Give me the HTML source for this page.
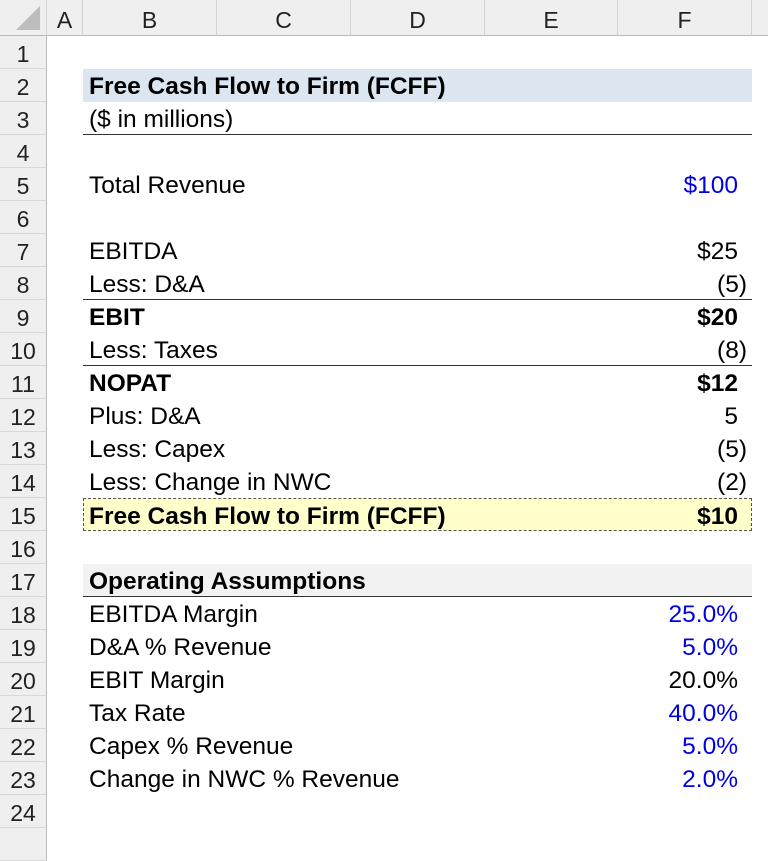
<!DOCTYPE html>
<html><head><meta charset="utf-8"><style>
body{margin:0;width:768px;height:834px;overflow:hidden;background:#fff;font-family:"Liberation Sans",Arial,sans-serif;position:relative}
.ch{position:absolute;top:0;height:36px;background:#efefef;border-bottom:1px solid #bbb;font-size:23px;line-height:40px;text-align:center;color:#222;border-right:1px solid #d4d4d4;box-sizing:border-box}
.rh{position:absolute;left:0;width:47px;height:33px;background:#efefef;border-right:1px solid #bbb;border-bottom:1px solid #d8d8d8;box-sizing:border-box;font-size:23px;line-height:36px;text-align:center;color:#222}
.row{position:absolute;left:83px;width:669px;height:33px;box-sizing:border-box;font-size:24.5px;line-height:36px;color:#000}
.l{position:absolute;left:6px}
.r{position:absolute;right:14px}
.rp{position:absolute;right:5px}
.b{font-weight:bold}.blue{color:#0000e6}
</style></head><body>
<div class="ch" style="left:0;width:47px"><svg width="47" height="36"><polygon points="40,6 40,30 16,30" fill="#bdbdbd"/></svg></div>
<div class="ch" style="left:47px;width:36px">A</div>
<div class="ch" style="left:83px;width:134px">B</div>
<div class="ch" style="left:217px;width:134px">C</div>
<div class="ch" style="left:351px;width:134px">D</div>
<div class="ch" style="left:485px;width:133px">E</div>
<div class="ch" style="left:618px;width:134px">F</div>
<div class="ch" style="left:752px;width:16px;border-right:none"></div>
<div id="rows"></div>

<div class="row" style="top:69px;background:#dce6f1"><span class="l b">Free Cash Flow to Firm (FCFF)</span></div>
<div class="row" style="top:102px;border-bottom:1px solid #333"><span class="l">($ in millions)</span></div>
<div class="row" style="top:168px"><span class="l">Total Revenue</span><span class="r blue">$100</span></div>
<div class="row" style="top:234px"><span class="l">EBITDA</span><span class="r">$25</span></div>
<div class="row" style="top:267px;border-bottom:1px solid #333"><span class="l">Less: D&amp;A</span><span class="rp">(5)</span></div>
<div class="row" style="top:300px"><span class="l b">EBIT</span><span class="r b">$20</span></div>
<div class="row" style="top:333px;border-bottom:1px solid #333"><span class="l">Less: Taxes</span><span class="rp">(8)</span></div>
<div class="row" style="top:366px"><span class="l b">NOPAT</span><span class="r b">$12</span></div>
<div class="row" style="top:399px"><span class="l">Plus: D&amp;A</span><span class="r">5</span></div>
<div class="row" style="top:432px"><span class="l">Less: Capex</span><span class="rp">(5)</span></div>
<div class="row" style="top:465px"><span class="l">Less: Change in NWC</span><span class="rp">(2)</span></div>
<div class="row" style="top:498px;background:#ffffcc;border:1px dashed #555"><span class="l b" style="left:5px">Free Cash Flow to Firm (FCFF)</span><span class="r b" style="right:13px">$10</span></div>
<div class="row" style="top:564px;background:#f2f2f2;border-bottom:1px solid #333"><span class="l b">Operating Assumptions</span></div>
<div class="row" style="top:597px"><span class="l">EBITDA Margin</span><span class="r blue">25.0%</span></div>
<div class="row" style="top:630px"><span class="l">D&amp;A % Revenue</span><span class="r blue">5.0%</span></div>
<div class="row" style="top:663px"><span class="l">EBIT Margin</span><span class="r">20.0%</span></div>
<div class="row" style="top:696px"><span class="l">Tax Rate</span><span class="r blue">40.0%</span></div>
<div class="row" style="top:729px"><span class="l">Capex % Revenue</span><span class="r blue">5.0%</span></div>
<div class="row" style="top:762px"><span class="l">Change in NWC % Revenue</span><span class="r blue">2.0%</span></div>
<script>
const c=document.getElementById('rows');
for(let i=1;i<=25;i++){
 const d=document.createElement('div');
 d.className='rh';
 d.style.top=(36+(i-1)*33)+'px';
 d.textContent=i<=24?i:'';
 
 
 c.appendChild(d);
}
</script>
</body></html>
